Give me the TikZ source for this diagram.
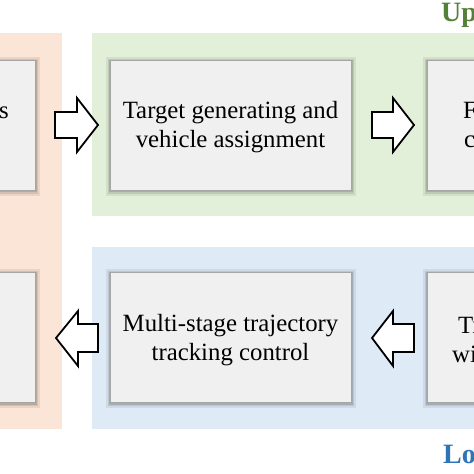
\documentclass[tikz,border=0pt]{standalone}
\usepackage{fontspec}
\setmainfont{Liberation Serif}
\definecolor{orangebg}{HTML}{FBE5D6}
\definecolor{greenbg}{HTML}{E2F0D9}
\definecolor{bluebg}{HTML}{DEEBF7}
\definecolor{boxfill}{HTML}{F0F0F0}
\definecolor{boxline}{HTML}{A6A6A6}
\definecolor{upgreen}{HTML}{538135}
\definecolor{loblue}{HTML}{2E75B6}
\tikzset{
  stagebox/.style={rectangle, draw=boxline, line width=0.6pt, fill=boxfill,
    minimum width=241pt, minimum height=130pt, inner sep=0pt,
    preaction={draw=black, draw opacity=0.07, line width=9pt, transform canvas={xshift=0.5pt,yshift=-1pt}},
    preaction={draw=black, draw opacity=0.09, line width=5pt, transform canvas={xshift=0.5pt,yshift=-1pt}},
    preaction={draw=black, draw opacity=0.12, line width=2.5pt, transform canvas={xshift=0.5pt,yshift=-1pt}}},
  boxtext/.style={inner sep=0pt, align=center, font=\fontsize{24.8}{29}\selectfont},
  parttext/.style={inner sep=0pt, font=\fontsize{24.8}{29}\selectfont},
  blockarrow/.style={draw=black, line width=1.8pt, fill=white, line join=miter},
  leveltitle/.style={inner sep=0pt, anchor=base west, font=\bfseries\fontsize{28}{30}\selectfont}
}
\begin{document}
\begin{tikzpicture}[x=1pt,y=-1pt]
\useasboundingbox (0,0) rectangle (474,474);
\fill[white] (0,0) rectangle (474,474);
% panels
\fill[orangebg] (-20,33) rectangle (62,429);
\fill[greenbg] (92,33) rectangle (520,216);
\fill[bluebg] (92,247) rectangle (520,429);
% boxes
\node[stagebox] (ul) at (-85.5,125) {};
\node[stagebox] (um) at (230.5,125) {};
\node[stagebox] (ur) at (547.5,125) {};
\node[stagebox] (ll) at (-85.5,337.5) {};
\node[stagebox] (lm) at (230.5,337.5) {};
\node[stagebox] (lr) at (547.5,337.5) {};
% box texts
\node[boxtext] (umt) at ([yshift=-2.5pt]um.center) {Target generating and\\vehicle assignment};
\node[boxtext] (lmt) at ([yshift=-2.5pt]lm.center) {Multi-stage trajectory\\tracking control};
% partly visible texts
\node[parttext, anchor=base east] (ult) at (9,118) {s};
\node[parttext, anchor=base west] (urt1) at (463,118) {F};
\node[parttext, anchor=base west] (urt2) at (464,147) {c};
\node[parttext, anchor=base west] (lrt1) at (458,333) {Tr};
\node[parttext, anchor=base west] (lrt2) at (452,362) {wi};
% block arrows (upper: rightwards)
\draw[blockarrow] (55,112) -- (77,112) -- (77,98) -- (98,125) -- (77,152) -- (77,138) -- (55,138) -- cycle;
\draw[blockarrow] (372,112) -- (393,112) -- (393,98) -- (414,125) -- (393,152) -- (393,138) -- (372,138) -- cycle;
% block arrows (lower: leftwards)
\draw[blockarrow] (98,324) -- (78,324) -- (78,311) -- (56,338) -- (78,366) -- (78,352) -- (98,352) -- cycle;
\draw[blockarrow] (414,324) -- (393,324) -- (393,311) -- (372,338) -- (393,366) -- (393,352) -- (414,352) -- cycle;
% level titles
\node[leveltitle, text=upgreen] (up) at (441,21) {Up};
\node[leveltitle, text=loblue] (lo) at (443,463) {Lo};
\end{tikzpicture}
\end{document}
